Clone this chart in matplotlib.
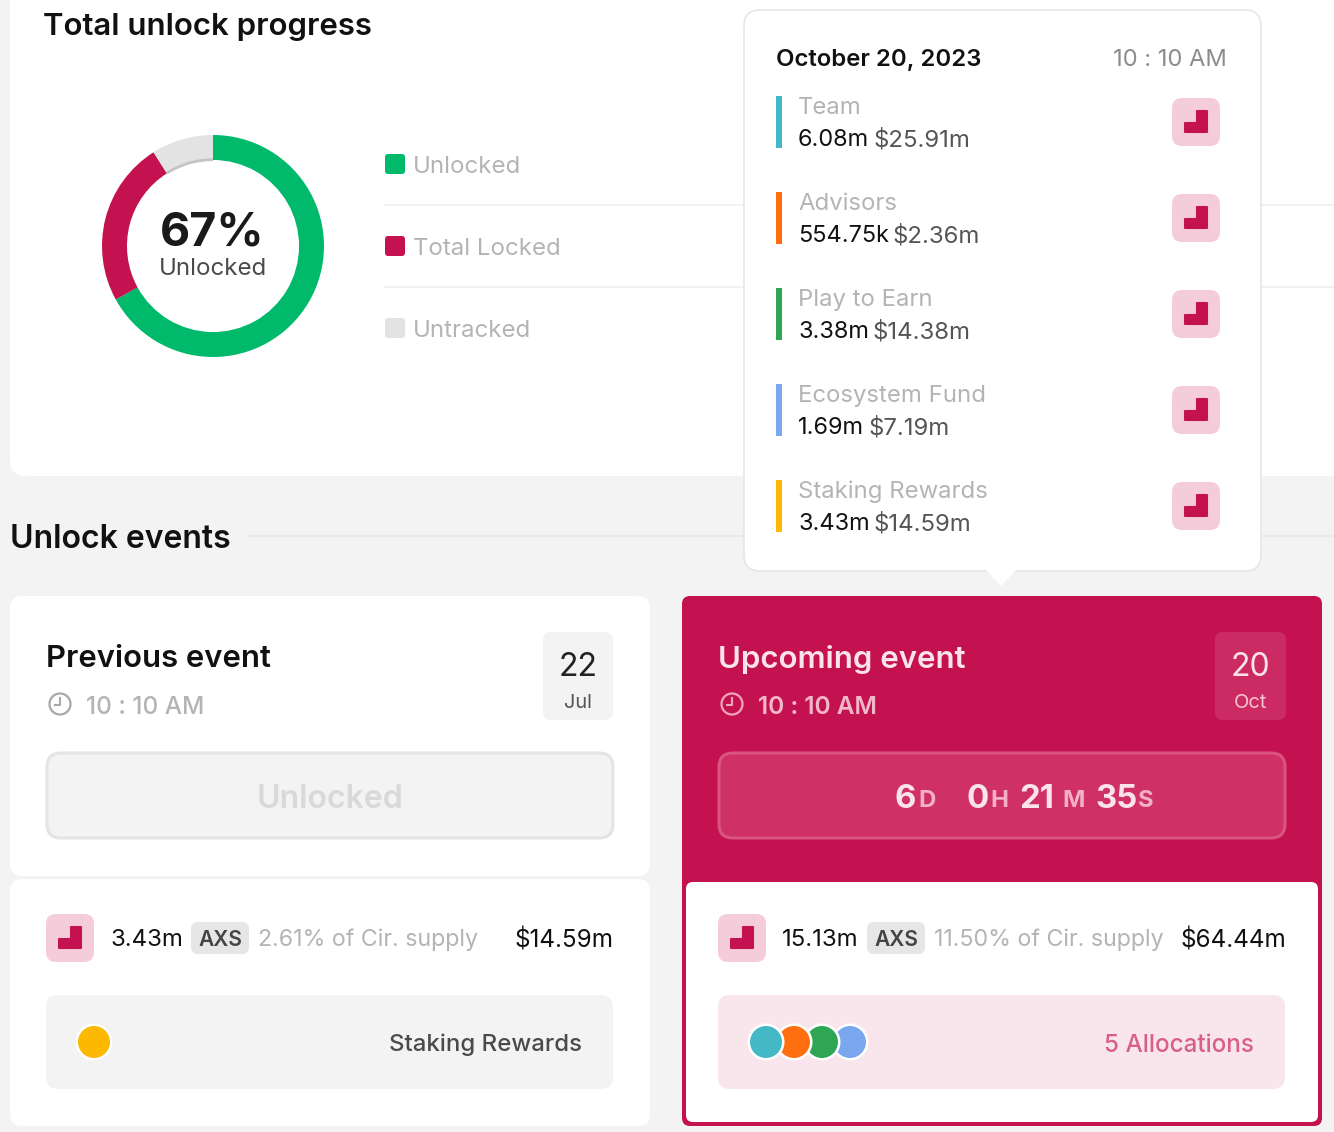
import matplotlib
matplotlib.use("Agg")
import matplotlib.pyplot as plt
from matplotlib.patches import FancyBboxPatch, Circle, Polygon, Rectangle

plt.rcParams['font.family'] = ['Inter', 'DejaVu Sans']

# ---- data ----
progress_labels = ["Unlocked", "Total Locked", "Untracked"]
progress_values = [67, 24, 9]
progress_colors = ["#00b96b", "#c41150", "#e3e3e3"]

alloc_names = ["Team", "Advisors", "Play to Earn", "Ecosystem Fund", "Staking Rewards"]
alloc_tokens = ["6.08m", "554.75k", "3.38m", "1.69m", "3.43m"]
alloc_usd = ["$25.91m", "$2.36m", "$14.38m", "$7.19m", "$14.59m"]
alloc_colors = ["#45b8c6", "#ff6f0f", "#2fa653", "#7ba7ee", "#fdb902"]

W, H = 1334, 1132
CRIM = "#c41150"
BG = "#f3f3f3"
GREY = "#b4b4b4"
DARK = "#111111"

fig = plt.figure(figsize=(W / 100, H / 100), dpi=100, facecolor=BG)
ax = fig.add_axes([0, 0, 1, 1])
ax.set_xlim(0, W)
ax.set_ylim(H, 0)
ax.axis("off")


def box(x0, y0, x1, y1, r=10, fc="white", ec="none", lw=0, z=1):
    p = FancyBboxPatch((x0 + r, y0 + r), x1 - x0 - 2 * r, y1 - y0 - 2 * r,
                       boxstyle=f"round,pad={r},rounding_size={r}",
                       fc=fc, ec=ec, lw=lw, zorder=z)
    ax.add_patch(p)


def txt(x, y, s, px, color=DARK, weight="normal", ha="left", z=10):
    return ax.text(x, y + 2, s, fontsize=px * 0.72, color=color, fontweight=weight,
                   ha=ha, va="center", zorder=z)


def token_icon(x, y, z=5):
    box(x - 24, y - 24, x + 24, y + 24, r=10, fc="#f5ccd9", z=z)
    ax.add_patch(Polygon([(x - 11, y + 1), (x + 1, y + 1), (x + 1, y - 11), (x + 11, y - 11),
                          (x + 11, y + 10), (x - 11, y + 10)], closed=True, fc=CRIM, ec=CRIM,
                         lw=1.5, joinstyle="round", zorder=z + 1))


def clock(x, y, color):
    ax.add_patch(Circle((x, y), 10.5, fc="none", ec=color, lw=1.6, zorder=6))
    ax.plot([x, x, x - 5], [y - 6, y + 1, y + 1], color=color, lw=1.5, zorder=6)


# ---- top card ----
box(10, -30, 1380, 476, r=16)
txt(43, 25, "Total unlock progress", 31.2, weight="semibold")

# donut
dax = fig.add_axes([(213 - 111) / W, 1 - (246 + 111) / H, 222 / W, 222 / H])
dax.pie(progress_values, colors=progress_colors, startangle=90, counterclock=False,
        radius=1.0, wedgeprops=dict(width=0.225, linewidth=0))
dax.pie(progress_values, colors=["none", "none", "#c4c4c4"], startangle=90, counterclock=False,
        radius=0.79, wedgeprops=dict(width=0.025, linewidth=0))
dax.set_xlim(-1, 1)
dax.set_ylim(-1, 1)
dax.set_zorder(2)
dax.patch.set_alpha(0)
txt(212, 232, f"{progress_values[0]}%", 46.5, color="#1a1a1a", weight="bold", ha="center", z=12)
txt(213, 267, "Unlocked", 24, color="#4a4a4a", ha="center", z=12)

for i, (lab, col) in enumerate(zip(progress_labels, progress_colors)):
    yy = 164 + 82 * i
    box(385, yy - 10, 405, yy + 10, r=3, fc=col, z=3)
    txt(413, yy + 1, lab, 24, color=GREY)
for yy in (205, 287):
    ax.plot([385, 1334], [yy, yy], color="#efefef", lw=1.2, zorder=2)

# ---- section title ----
txt(10, 537, "Unlock events", 32, weight="semibold")
ax.plot([248, 1334], [536, 536], color="#e9e9e9", lw=1.5, zorder=1)

# ---- tooltip ----
box(744, 10, 1261, 571, r=16, fc="white", ec="#e6e6e6", lw=1.2, z=6)
ax.add_patch(Polygon([(986, 570), (1001, 586), (1016, 570)], closed=True, fc="white", ec="none", zorder=7))
txt(776, 58, "October 20, 2023", 24, color="#111111", weight="semibold", z=11)
txt(1227, 58, "10 : 10 AM", 23.7, color="#8c8c8c", ha="right", z=11)
for i, (name, tok, usd, col) in enumerate(zip(alloc_names, alloc_tokens, alloc_usd, alloc_colors)):
    top = 96 + 96 * i
    ax.add_patch(Rectangle((776, top), 6, 52, fc=col, ec="none", zorder=8))
    txt(798, top + 10, name, 23.9, color=GREY, z=11)
    t = txt(798, top + 42, tok, 23.5, color=DARK, z=11)
    fig.canvas.draw() if i == 0 else None
    bb = t.get_window_extent(fig.canvas.get_renderer())
    txt(bb.x1 + 4, top + 42, usd, 24, color="#555555", z=11)
    token_icon(1196, top + 26, z=8)

# ---- previous event ----
box(10, 596, 650, 876, r=12)
box(10, 879, 650, 1126, r=12)
txt(46, 657, "Previous event", 31, weight="semibold")
clock(60, 704, "#a8a8a8")
txt(86, 705, "10 : 10 AM", 24.4, color=GREY, weight="medium")
box(543, 632, 613, 720, r=8, fc=BG, z=2)
txt(578, 665, "22", 32, ha="center", color="#222222")
txt(578, 701, "Jul", 20, ha="center", color="#555555")
box(47, 753, 613, 838, r=14, fc=BG, ec="#e4e4e4", lw=2.2, z=2)
txt(330, 797, "Unlocked", 32, color="#d9d9d9", weight="semibold", ha="center")

token_icon(70, 938)
txt(110, 938, "3.43m", 24, color=DARK)
box(191, 922, 249, 954, r=7, fc="#e6e6e6", z=3)
txt(220, 938, "AXS", 21, color="#444444", weight="semibold", ha="center")
txt(258, 938, "2.61% of Cir. supply", 23.2, color=GREY)
txt(614, 938, "$14.59m", 24.2, color=DARK, ha="right")
box(46, 995, 613, 1089, r=12, fc=BG, z=2)
ax.add_patch(Circle((94, 1042), 18.5, fc="white", ec="none", zorder=3))
ax.add_patch(Circle((94, 1042), 16, fc=alloc_colors[4], ec="none", zorder=4))
txt(582, 1043, alloc_names[4], 24, color="#4a4a4a", weight="medium", ha="right")

# ---- upcoming event ----
box(682, 596, 1322, 1126, r=8, fc=CRIM)
box(686, 882, 1318, 1122, r=7, fc="white", z=2)
txt(718, 657, "Upcoming event", 31.2, color="#fbe3ea", weight="semibold")
clock(732, 704, "#eda6bd")
txt(758, 705, "10 : 10 AM", 24.4, color="#f2b8ca", weight="semibold")
box(1215, 632, 1286, 720, r=8, fc="#cc2a62", z=2)
txt(1250, 665, "20", 32, ha="center", color="#fbe3ea")
txt(1250, 701, "Oct", 20, ha="center", color="#f4c3d2")
box(719, 753, 1285, 838, r=14, fc="#cf3066", ec="#d9557f", lw=2.2, z=2)
countdown = [("6", "D", 895, 918), ("0", "H", 966, 990), ("21", "M", 1019, 1062), ("35", "S", 1095, 1138)]
for num, unit, x, ux in countdown:
    txt(x, 797, num, 33, color="#fbe3ea", weight="bold")
    txt(ux, 799, unit, 24, color="#f2b0c6", weight="bold")

token_icon(742, 938)
txt(782, 938, "15.13m", 24, color=DARK)
box(867, 922, 925, 954, r=7, fc="#e6e6e6", z=3)
txt(896, 938, "AXS", 21, color="#444444", weight="semibold", ha="center")
txt(934, 938, "11.50% of Cir. supply", 23.2, color=GREY)
txt(1286, 938, "$64.44m", 24.2, color=DARK, ha="right")
box(718, 995, 1285, 1089, r=12, fc="#f9e6ec", z=3)
order = [3, 2, 1, 0]
xs = {0: 766, 1: 794, 2: 822, 3: 850}
for n, k in enumerate(order):
    ax.add_patch(Circle((xs[k], 1042), 18.5, fc="white", ec="none", zorder=4 + n))
    ax.add_patch(Circle((xs[k], 1042), 16, fc=alloc_colors[k], ec="none", zorder=4 + n))
txt(1254, 1043, "5 Allocations", 24.3, color="#d95f88", weight="medium", ha="right")

fig.savefig("out.png", dpi=100, facecolor=BG)
